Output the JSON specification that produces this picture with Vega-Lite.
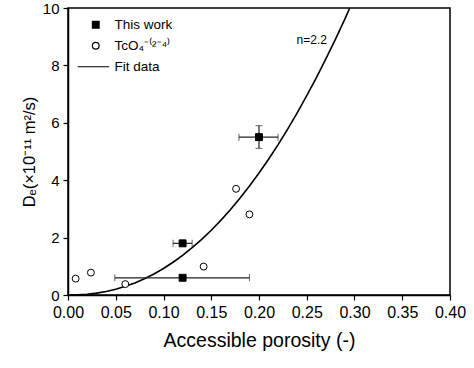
{
  "$schema": "https://vega.github.io/schema/vega-lite/v6.json",
  "width": 382,
  "height": 287,
  "autosize": {"type": "none"},
  "padding": {"left": 68, "top": 8, "right": 24, "bottom": 73},
  "background": "white",
  "config": {
    "font": "Liberation Sans",
    "view": {"stroke": "black", "strokeWidth": 1.5},
    "axis": {"domainColor": "black", "domainWidth": 1.5, "tickColor": "black", "tickWidth": 1.2, "labelColor": "black", "titleColor": "black", "grid": false, "labelFont": "Liberation Sans", "titleFont": "Liberation Sans", "titleFontWeight": "normal"},
    "legend": {"orient": "none", "legendX": 21, "legendY": 10, "padding": 0, "labelFontSize": 13.5, "labelFont": "Liberation Sans", "labelColor": "black", "labelOffset": 12, "symbolSize": 45, "rowPadding": 6, "symbolStrokeWidth": 1.2}
  },
  "datasets": {
    "points": [
      {"porosity": 0.200, "De": 5.50, "series": "This work"},
      {"porosity": 0.120, "De": 1.80, "series": "This work"},
      {"porosity": 0.120, "De": 0.60, "series": "This work"},
      {"porosity": 0.008, "De": 0.57, "series": "TcO₄⁻⁽²⁻⁴⁾"},
      {"porosity": 0.024, "De": 0.78, "series": "TcO₄⁻⁽²⁻⁴⁾"},
      {"porosity": 0.060, "De": 0.38, "series": "TcO₄⁻⁽²⁻⁴⁾"},
      {"porosity": 0.142, "De": 0.99, "series": "TcO₄⁻⁽²⁻⁴⁾"},
      {"porosity": 0.176, "De": 3.70, "series": "TcO₄⁻⁽²⁻⁴⁾"},
      {"porosity": 0.190, "De": 2.81, "series": "TcO₄⁻⁽²⁻⁴⁾"}
    ],
    "xerr": [
      {"De": 5.5, "lo": 0.179, "hi": 0.220},
      {"De": 1.8, "lo": 0.110, "hi": 0.130},
      {"De": 0.6, "lo": 0.049, "hi": 0.190}
    ],
    "yerr": [
      {"porosity": 0.2, "lo": 5.11, "hi": 5.90}
    ],
    "fit": [
      {"porosity": 0.0, "De": 0.0},
      {"porosity": 0.01, "De": 0.0058},
      {"porosity": 0.02, "De": 0.0268},
      {"porosity": 0.03, "De": 0.0654},
      {"porosity": 0.04, "De": 0.123},
      {"porosity": 0.05, "De": 0.201},
      {"porosity": 0.06, "De": 0.301},
      {"porosity": 0.07, "De": 0.422},
      {"porosity": 0.08, "De": 0.566},
      {"porosity": 0.09, "De": 0.734},
      {"porosity": 0.10, "De": 0.925},
      {"porosity": 0.11, "De": 1.141},
      {"porosity": 0.12, "De": 1.383},
      {"porosity": 0.13, "De": 1.648},
      {"porosity": 0.14, "De": 1.939},
      {"porosity": 0.15, "De": 2.257},
      {"porosity": 0.16, "De": 2.601},
      {"porosity": 0.17, "De": 2.972},
      {"porosity": 0.18, "De": 3.370},
      {"porosity": 0.19, "De": 3.797},
      {"porosity": 0.20, "De": 4.250},
      {"porosity": 0.21, "De": 4.732},
      {"porosity": 0.22, "De": 5.241},
      {"porosity": 0.23, "De": 5.780},
      {"porosity": 0.24, "De": 6.348},
      {"porosity": 0.25, "De": 6.944},
      {"porosity": 0.26, "De": 7.569},
      {"porosity": 0.27, "De": 8.226},
      {"porosity": 0.28, "De": 8.909},
      {"porosity": 0.29, "De": 9.624},
      {"porosity": 0.295, "De": 10.0}
    ]
  },
  "layer": [
    {
      "data": {"name": "fit"},
      "mark": {"type": "line", "color": "black", "strokeWidth": 1.6, "clip": true},
      "encoding": {
        "x": {
          "field": "porosity", "type": "quantitative", "title": "Accessible porosity (-)",
          "scale": {"domain": [0, 0.4], "nice": false, "zero": false},
          "axis": {
            "title": "Accessible porosity (-)",
            "titleFontSize": 19.5, "titlePadding": 11,
            "labelFontSize": 16, "labelPadding": 4,
            "values": [0, 0.025, 0.05, 0.075, 0.1, 0.125, 0.15, 0.175, 0.2, 0.225, 0.25, 0.275, 0.3, 0.325, 0.35, 0.375, 0.4],
            "labelExpr": "abs(datum.value*20 - round(datum.value*20)) < 0.001 ? format(datum.value, '.2f') : ''",
            "tickSize": {"condition": {"test": "abs(datum.value*20 - round(datum.value*20)) < 0.001", "value": 5}, "value": 3},
            "labelFlush": false, "labelBound": false, "labelOverlap": false
          }
        },
        "y": {
          "field": "De", "type": "quantitative", "title": "Dₑ(×10⁻¹¹ m²/s)",
          "scale": {"domain": [0, 10], "nice": false},
          "axis": {
            "title": "Dₑ(×10⁻¹¹ m²/s)",
            "titleFontSize": 16.5, "titlePadding": 5,
            "labelFontSize": 15, "labelPadding": 4,
            "values": [0, 1, 2, 3, 4, 5, 6, 7, 8, 9, 10],
            "labelExpr": "datum.value % 2 === 0 ? datum.label : ''",
            "tickSize": {"condition": {"test": "datum.value % 2 === 0", "value": 5}, "value": 3},
            "labelOverlap": false
          }
        }
      }
    },
    {
      "data": {"name": "xerr"},
      "mark": {"type": "errorbar", "ticks": {"size": 7, "color": "#222"}, "rule": {"color": "#222", "strokeWidth": 1.2}},
      "encoding": {
        "x": {"field": "lo", "type": "quantitative", "title": "Accessible porosity (-)"},
        "x2": {"field": "hi"},
        "y": {"field": "De", "type": "quantitative", "title": "Dₑ(×10⁻¹¹ m²/s)"}
      }
    },
    {
      "data": {"name": "yerr"},
      "mark": {"type": "errorbar", "ticks": {"size": 7, "color": "#222"}, "rule": {"color": "#222", "strokeWidth": 1.2}},
      "encoding": {
        "y": {"field": "lo", "type": "quantitative", "title": "Dₑ(×10⁻¹¹ m²/s)"},
        "y2": {"field": "hi"},
        "x": {"field": "porosity", "type": "quantitative", "title": "Accessible porosity (-)"}
      }
    },
    {
      "data": {"name": "points"},
      "mark": {"type": "point", "stroke": "black", "strokeWidth": 1, "opacity": 1, "size": 48, "filled": false},
      "encoding": {
        "x": {"field": "porosity", "type": "quantitative", "title": "Accessible porosity (-)"},
        "y": {"field": "De", "type": "quantitative", "title": "Dₑ(×10⁻¹¹ m²/s)"},
        "shape": {
          "field": "series", "type": "nominal",
          "scale": {"domain": ["This work", "TcO₄⁻⁽²⁻⁴⁾", "Fit data"], "range": ["square", "circle", "M-5.4,0L4,0"]},
          "legend": {"title": null}
        },
        "fill": {
          "field": "series", "type": "nominal",
          "scale": {"domain": ["This work", "TcO₄⁻⁽²⁻⁴⁾", "Fit data"], "range": ["black", "white", "transparent"]},
          "legend": {"title": null}
        }
      }
    },
    {
      "data": {"values": [{}]},
      "mark": {"type": "text", "text": "n=2.2", "fontSize": 12, "align": "right", "baseline": "middle", "font": "Liberation Sans", "color": "black"},
      "encoding": {
        "x": {"datum": 0.2712, "type": "quantitative"},
        "y": {"datum": 8.88, "type": "quantitative"}
      }
    }
  ]
}
